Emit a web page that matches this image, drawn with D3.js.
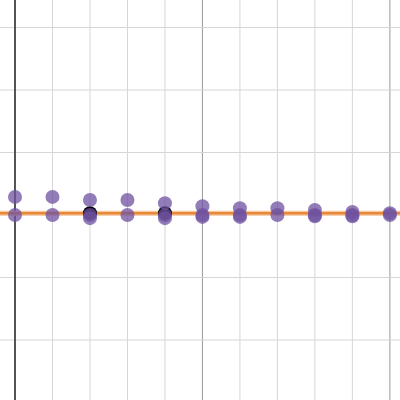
<!DOCTYPE html>
<html><head><meta charset="utf-8">
<script src="https://cdn.jsdelivr.net/npm/d3@7"></script>
<style>body{margin:0;background:#fff}</style></head>
<body><svg id="chart" width="400" height="400"></svg>
<script>
// data
var xs = [0, 1, 2, 3, 4, 5, 6, 7, 8, 9, 10];
var upper = [0.29, 0.29, 0.24, 0.24, 0.19, 0.14, 0.11, 0.11, 0.08, 0.05, 0.03];
var lower = [0, 0, 0, 0, 0, 0, 0, 0, 0, 0, 0];
var extraX = [2, 4, 5, 6, 8, 9];
var extraY = [-0.05, -0.05, -0.03, -0.03, -0.02, -0.02];
var blackX = [2, 4];
var blackY = [0.03, 0.03];
var lineY = 0.03;

var svg = d3.select("#chart"), w = 400, h = 400;
var x = d3.scaleLinear().domain([-0.4, 10.27]).range([0, w]);
var y = d3.scaleLinear().domain([3.44, -2.96]).range([0, h]);

// grid
var gx = d3.range(0, 11), gy = d3.range(-2, 4);
svg.selectAll(".vx").data(gx).enter().append("line")
   .attr("x1", d => x(d)).attr("x2", d => x(d)).attr("y1", 0).attr("y2", h)
   .attr("stroke", d => d % 5 == 0 && d != 0 ? "#999" : "#d6d6d6").attr("stroke-width", 1);
svg.selectAll(".hy").data(gy).enter().append("line")
   .attr("y1", d => y(d)).attr("y2", d => y(d)).attr("x1", 0).attr("x2", w)
   .attr("stroke", "#d6d6d6").attr("stroke-width", 1);
// y axis
svg.append("line").attr("x1", x(0)).attr("x2", x(0)).attr("y1", 0).attr("y2", h)
   .attr("stroke", "#222").attr("stroke-width", 1.5);

// fit line
svg.append("line").attr("x1", 0).attr("x2", w).attr("y1", y(lineY)).attr("y2", y(lineY))
   .attr("stroke", "#f6c9a0").attr("stroke-width", 5);
svg.append("line").attr("x1", 0).attr("x2", w).attr("y1", y(lineY)).attr("y2", y(lineY))
   .attr("stroke", "#e8893a").attr("stroke-width", 2.5);

// points
svg.selectAll(".b").data(blackX).enter().append("circle")
   .attr("cx", d => x(d)).attr("cy", (d, i) => y(blackY[i])).attr("r", 7).attr("fill", "#000");
function dots(px, py) {
  svg.append("g").selectAll("circle").data(px).enter().append("circle")
     .attr("cx", d => x(d)).attr("cy", (d, i) => y(py[i])).attr("r", 7)
     .attr("fill", "#6f52a0").attr("fill-opacity", 0.75);
}
dots(xs, upper);
dots(xs, lower);
dots(extraX, extraY);
</script></body></html>
